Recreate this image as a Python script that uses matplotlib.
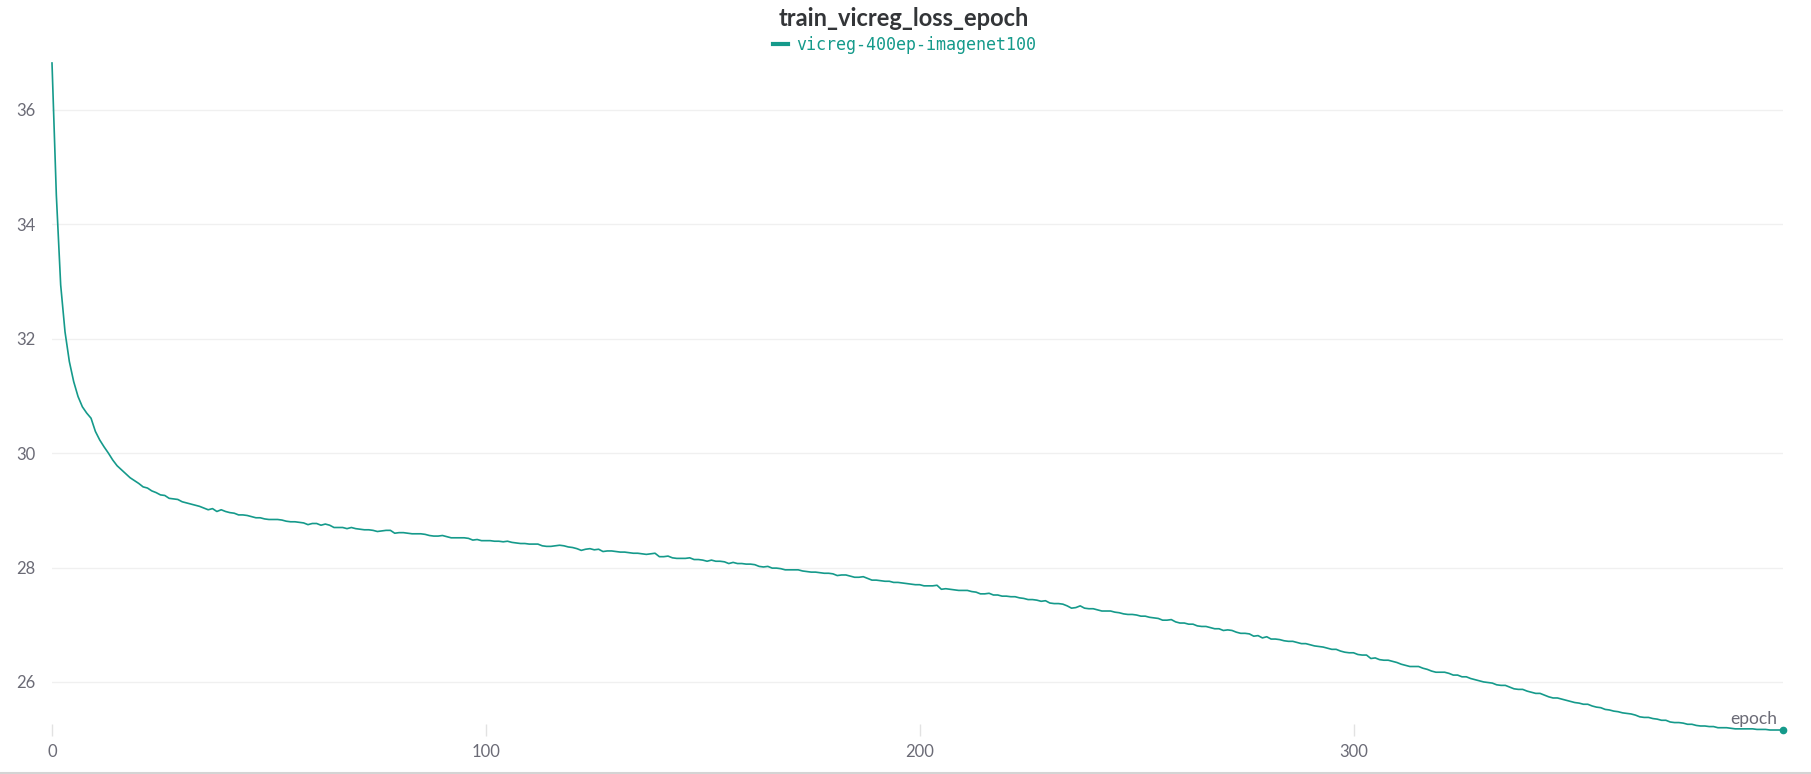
import matplotlib
matplotlib.use("Agg")
import matplotlib.pyplot as plt
from matplotlib.lines import Line2D
import numpy as np

# train_vicreg_loss_epoch (one value per epoch)
loss = [
    36.82, 34.51, 32.94, 32.12, 31.60, 31.25, 30.99, 30.81, 30.70, 30.61,
    30.38, 30.23, 30.11, 30.00, 29.88, 29.78, 29.71, 29.64, 29.57, 29.52,
    29.47, 29.41, 29.39, 29.34, 29.31, 29.27, 29.26, 29.21, 29.20, 29.19,
    29.15, 29.13, 29.11, 29.09, 29.07, 29.04, 29.01, 29.03, 28.98, 29.01,
    28.98, 28.96, 28.95, 28.92, 28.92, 28.91, 28.89, 28.87, 28.87, 28.85,
    28.84, 28.84, 28.84, 28.83, 28.81, 28.80, 28.80, 28.79, 28.78, 28.75,
    28.77, 28.77, 28.74, 28.76, 28.74, 28.70, 28.70, 28.70, 28.68, 28.70,
    28.68, 28.67, 28.66, 28.66, 28.65, 28.63, 28.64, 28.65, 28.65, 28.60,
    28.61, 28.61, 28.60, 28.59, 28.59, 28.59, 28.58, 28.56, 28.55, 28.55,
    28.56, 28.54, 28.52, 28.52, 28.52, 28.52, 28.51, 28.48, 28.49, 28.47,
    28.47, 28.47, 28.46, 28.46, 28.45, 28.46, 28.44, 28.43, 28.42, 28.42,
    28.41, 28.41, 28.41, 28.38, 28.37, 28.37, 28.38, 28.39, 28.38, 28.36,
    28.35, 28.33, 28.30, 28.32, 28.33, 28.31, 28.32, 28.28, 28.29, 28.29,
    28.28, 28.27, 28.27, 28.26, 28.25, 28.25, 28.24, 28.23, 28.24, 28.25,
    28.19, 28.19, 28.20, 28.17, 28.16, 28.16, 28.16, 28.17, 28.14, 28.14,
    28.13, 28.11, 28.13, 28.11, 28.11, 28.10, 28.07, 28.09, 28.07, 28.07,
    28.06, 28.06, 28.05, 28.02, 28.01, 28.02, 27.99, 27.99, 27.98, 27.96,
    27.96, 27.96, 27.96, 27.94, 27.93, 27.92, 27.92, 27.91, 27.90, 27.90,
    27.89, 27.86, 27.87, 27.87, 27.85, 27.83, 27.83, 27.84, 27.81, 27.78,
    27.78, 27.77, 27.76, 27.76, 27.74, 27.74, 27.73, 27.72, 27.71, 27.70,
    27.70, 27.68, 27.68, 27.68, 27.69, 27.62, 27.63, 27.62, 27.61, 27.60,
    27.60, 27.60, 27.58, 27.57, 27.54, 27.54, 27.55, 27.52, 27.52, 27.50,
    27.50, 27.49, 27.49, 27.47, 27.46, 27.44, 27.44, 27.43, 27.41, 27.42,
    27.38, 27.37, 27.37, 27.36, 27.33, 27.29, 27.30, 27.33, 27.29, 27.28,
    27.28, 27.26, 27.24, 27.24, 27.24, 27.22, 27.21, 27.19, 27.18, 27.18,
    27.17, 27.15, 27.15, 27.13, 27.12, 27.11, 27.08, 27.08, 27.09, 27.05,
    27.03, 27.03, 27.01, 27.01, 26.98, 26.97, 26.97, 26.95, 26.93, 26.93,
    26.90, 26.91, 26.90, 26.87, 26.85, 26.85, 26.84, 26.80, 26.81, 26.77,
    26.79, 26.75, 26.75, 26.74, 26.72, 26.71, 26.71, 26.69, 26.67, 26.67,
    26.65, 26.63, 26.62, 26.61, 26.59, 26.57, 26.57, 26.54, 26.52, 26.51,
    26.51, 26.48, 26.47, 26.47, 26.41, 26.42, 26.39, 26.38, 26.38, 26.36,
    26.34, 26.31, 26.29, 26.27, 26.27, 26.27, 26.24, 26.22, 26.19, 26.17,
    26.17, 26.17, 26.15, 26.12, 26.12, 26.09, 26.09, 26.06, 26.04, 26.02,
    26.00, 25.99, 25.98, 25.95, 25.94, 25.94, 25.91, 25.88, 25.87, 25.87,
    25.84, 25.82, 25.80, 25.80, 25.77, 25.74, 25.72, 25.72, 25.70, 25.68,
    25.66, 25.64, 25.63, 25.61, 25.61, 25.58, 25.56, 25.55, 25.52, 25.51,
    25.49, 25.48, 25.46, 25.45, 25.44, 25.42, 25.39, 25.38, 25.38, 25.36,
    25.35, 25.33, 25.33, 25.30, 25.29, 25.29, 25.28, 25.26, 25.26, 25.24,
    25.23, 25.23, 25.22, 25.22, 25.20, 25.20, 25.20, 25.19, 25.18, 25.18,
    25.18, 25.18, 25.18, 25.17, 25.17, 25.17, 25.16, 25.16, 25.16, 25.16,
]
epochs = np.arange(len(loss))

run_name = "vicreg-400ep-imagenet100"
title = "train_vicreg_loss_epoch"
x_ticks = [0, 100, 200, 300]
y_ticks = [26, 28, 30, 32, 34, 36]

color = "#159a8b"
label_color = "#6b6b76"

plt.rcParams['font.family'] = ['Lato', 'DejaVu Sans']

W, H = 1811, 774
fig = plt.figure(figsize=(W / 100, H / 100), dpi=100)
ax = fig.add_axes([52 / W, 1 - 730 / H, (1783 - 52) / W, (730 - 63) / H])

ax.plot(epochs, loss, color=color, lw=1.2, clip_on=False, zorder=3)
ax.plot(epochs[-1], loss[-1], 'o', color=color, ms=4.5, clip_on=False, zorder=4)

ax.set_xlim(0, epochs[-1])
ax.set_ylim(min(loss), max(loss))
ax.set_xticks(x_ticks)
ax.set_yticks(y_ticks)

for s in ax.spines.values():
    s.set_visible(False)
ax.grid(axis='y', color='#f0f0f0', lw=1)
ax.set_axisbelow(True)
ax.tick_params(axis='x', direction='inout', length=8, width=1, color='#e2e2e2',
               labelsize=12, labelcolor=label_color, pad=6)
ax.tick_params(axis='y', length=0, labelsize=12, labelcolor=label_color, pad=12)

fig.text(1777 / W, 1 - 719 / H, "epoch", ha='right', va='center',
         fontsize=12.5, color=label_color)

fig.text(904 / W, 1 - 18 / H, title, ha='center', va='center',
         fontsize=17, fontweight='bold', color='#333538')

handle = Line2D([], [], color=color, lw=3)
fig.legend([handle], [run_name], loc='center', bbox_to_anchor=(905 / W, 1 - 45 / H),
           frameon=False, handlelength=0.9, handletextpad=0.5,
           prop={'family': 'DejaVu Sans Mono', 'size': 12}, labelcolor=color)

# thin border at the bottom of the panel
fig.add_artist(Line2D([0, 1], [1 - 772.5 / H] * 2, color='#d4d4d4', lw=1.5,
                      transform=fig.transFigure))

fig.savefig("out.png", dpi=100)
